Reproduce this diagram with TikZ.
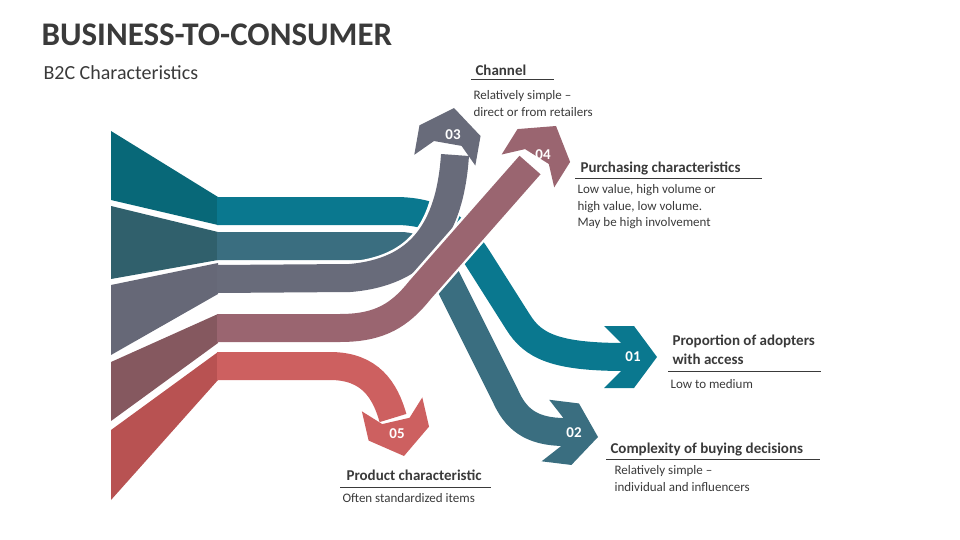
\documentclass[tikz,border=0pt]{standalone}
\usepackage{fontspec}
\setmainfont{Carlito}
\definecolor{cA}{HTML}{0A788F}\definecolor{fA}{HTML}{086878}
\definecolor{cB}{HTML}{3A6E80}\definecolor{fB}{HTML}{30606C}
\definecolor{cC}{HTML}{686B7A}\definecolor{fC}{HTML}{666877}
\definecolor{cD}{HTML}{9A6570}\definecolor{fD}{HTML}{85585F}
\definecolor{cE}{HTML}{CD6060}\definecolor{fE}{HTML}{B85252}
\definecolor{txt}{HTML}{3A3A3A}
\tikzset{
 band/.style={line width=28pt},
 edge/.style={line width=33pt,white},
 head/.pic={\fill[#1] (0,0)--(-23,31)--(-53,31)--(-36,14)--(-36,-14)--(-53,-31)--(-23,-31)--cycle;},
 num/.style={text=white,font=\bfseries\fontsize{15}{15}\selectfont},
 ttl/.style={anchor=base west,text=txt,font=\bfseries\fontsize{15}{17}\selectfont},
 dsc/.style={anchor=north west,text=txt,align=left,font=\fontsize{13}{16.5}\selectfont},
}
\begin{document}
\begin{tikzpicture}[x=1pt,y=-1pt]
\useasboundingbox (0,0) rectangle (960,540);
\node[anchor=base west,text=txt,font=\bfseries\fontsize{33}{33}\selectfont] (t) at (38,46) {BUSINESS-TO-CONSUMER};
\node[anchor=base west,text=txt,font=\fontsize{20}{20}\selectfont] (s) at (40,80) {B2C Characteristics};
% funnels
\fill[fA] (111,131)--(218,197)--(218,225)--(111,200)--cycle;
\fill[fB] (111,206)--(218,232)--(218,260)--(111,279)--cycle;
\fill[fC] (111,285)--(218,263)--(218,294)--(111,355)--cycle;
\fill[fD] (111,362)--(218,314)--(218,343)--(111,421)--cycle;
\fill[fE] (111,430)--(218,352)--(218,380)--(111,500)--cycle;
% 01
\draw[band,cA] (217,211) -- (395,211) .. controls (440,211) and (460,230) .. (480,262) -- (518,322) .. controls (533,346) and (555,357) .. (625,357);
\pic at (657,357) {head=cA};
% 02
\draw[edge] (400,246) .. controls (420,246) and (435,260) .. (445,275) -- (505,395);
\draw[band,cB] (217,246) -- (400,246) .. controls (420,246) and (435,260) .. (445,275) -- (505,395) .. controls (515,418) and (530,432) .. (565,432);
\pic[rotate=-7] at (598,437) {head=cB};
% 03
\draw[edge] (350,278) .. controls (420,272) and (448,230) .. (452,165);
\draw[band,cC] (217,279) -- (350,278) .. controls (420,272) and (450,230) .. (455,155);
\pic[rotate=80] at (454,108) {head=cC};
% 04
\draw[edge] (340,328) .. controls (380,328) and (400,315) .. (420,290) -- (525,170);
\draw[band,cD] (217,328) -- (340,328) .. controls (380,328) and (400,315) .. (420,290) -- (530,165);
\pic[rotate=58] at (556,126) {head=cD};
% 05
\draw[band,cE] (217,366) -- (330,366) .. controls (370,366) and (385,390) .. (393,418);
\pic[rotate=-77] at (404,456) {head=cE};
% numbers
\node[num] (n1) at (633,357) {01};
\node[num] (n2) at (574,433) {02};
\node[num] (n3) at (453,135) {03};
\node[num] (n4) at (543,155) {04};
\node[num] (n5) at (397,434) {05};
% labels
\node[ttl] (l3) at (472,76) {Channel};
\draw[txt] (471,79) -- (554,79);
\node[dsc] (d3) at (470,87) {Relatively simple –\\direct or from retailers};
\node[ttl] (l4) at (577,172) {Purchasing characteristics};
\draw[txt] (575,178) -- (762,178);
\node[dsc] (d4) at (574,181) {Low value, high volume or\\high value, low volume.\\May be high involvement};
\node[ttl] (l1) at (669,345) {Proportion of adopters};
\node[ttl] (l1b) at (669,364) {with access};
\draw[txt] (668,371) -- (821,371);
\node[dsc] (d1) at (667,376) {Low to medium};
\node[ttl] (l2) at (607,453) {Complexity of buying decisions};
\draw[txt] (606,459) -- (820,459);
\node[dsc] (d2) at (611,462) {Relatively simple –\\individual and influencers};
\node[ttl] (l5) at (343,480) {Product characteristic};
\draw[txt] (340,487) -- (491,487);
\node[dsc] (d5) at (339,490) {Often standardized items};
\end{tikzpicture}
\end{document}
